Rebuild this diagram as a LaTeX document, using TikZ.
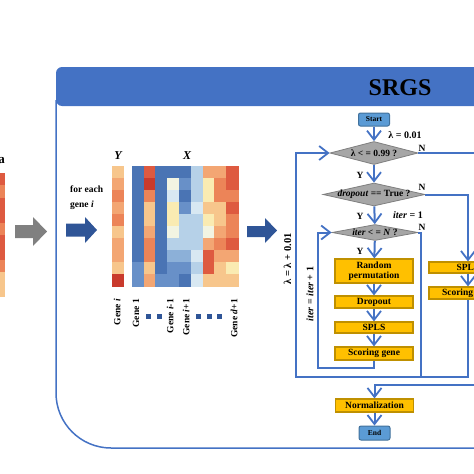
\documentclass[tikz,border=0pt]{standalone}
\usepackage{fontspec}
\setmainfont{Liberation Serif}
\usetikzlibrary{arrows.meta, shapes.geometric}

\definecolor{panelblue}{HTML}{4472C4}
\definecolor{arrowblue}{HTML}{2F5597}
\definecolor{arrowgray}{HTML}{808080}
\definecolor{diafill}{HTML}{A6A6A6}
\definecolor{diaedge}{HTML}{7F7F7F}
\definecolor{goldfill}{HTML}{FFC000}
\definecolor{goldedge}{HTML}{BF9000}
\definecolor{termfill}{HTML}{5B9BD5}
\definecolor{termedge}{HTML}{41719C}
% heatmap palette
\definecolor{bA}{HTML}{4A74B4}
\definecolor{bB}{HTML}{6890C8}
\definecolor{bC}{HTML}{8CB0D8}
\definecolor{bD}{HTML}{B6D1E8}
\definecolor{bE}{HTML}{D8E8F2}
\definecolor{wA}{HTML}{F2F4E2}
\definecolor{yA}{HTML}{FAEBB2}
\definecolor{oA}{HTML}{F7C68C}
\definecolor{oB}{HTML}{F3A673}
\definecolor{oC}{HTML}{EC8458}
\definecolor{rA}{HTML}{DE5A40}
\definecolor{rB}{HTML}{C93A2C}

\begin{document}
\begin{tikzpicture}[x=1pt, y=-1pt, font=\bfseries,
    flow/.style={draw=panelblue, line width=2pt},
    flowarrow/.style={flow, -{Straight Barb[length=9pt, width=14pt, line width=1.8pt]}},
    decision/.style={diamond, fill=diafill, draw=diaedge, line width=0.8pt, inner sep=0pt},
    goldbox/.style={rectangle, fill=goldfill, draw=goldedge, line width=1.2pt, minimum width=78pt,
      inner sep=1pt, font=\bfseries\fontsize{9.5}{10}\selectfont, align=center},
    terminal/.style={rectangle, rounded corners=2pt, fill=termfill, draw=termedge, line width=1pt,
      minimum width=31pt, inner sep=1pt, font=\bfseries\fontsize{7.5}{8}\selectfont},
    tag/.style={font=\bfseries\fontsize{9.5}{10}\selectfont, inner sep=0pt},
    genelabel/.style={rotate=90, anchor=east, inner sep=0pt, font=\bfseries\fontsize{9.5}{10}\selectfont}]
    \useasboundingbox (0,0) rectangle (474,474);

    % Input data (cut at the left edge)
    \node[anchor=base east, inner sep=0pt, font=\bfseries\fontsize{13}{14}\selectfont] (datatitle) at (5,163) {a};
    \foreach \c [count=\j from 0] in {rA,oC,rA,rA,oC,rA,rA,oC,oA,oA}
        \fill[\c] (-10,173+\j*12.4) rectangle ++(14.5,12.4);
    \fill[arrowgray] (15,225) -- (33,225) -- (33,217) -- (47,231.5) -- (33,246) -- (33,238) -- (15,238) -- cycle;

    % SRGS panel
    \draw[panelblue, line width=1.5pt, rounded corners=55pt] (56,100) |- (490,448);
    \fill[panelblue, rounded corners=6pt] (56,106) |- (490,67) -- (490,106) -- cycle;
    \node[font=\bfseries\fontsize{24}{26}\selectfont] (srgs) at (400,88) {SRGS};

    % For each gene
    \node[anchor=west, align=left, inner sep=0pt, font=\bfseries\fontsize{9.5}{14.5}\selectfont] (foreach) at (70,197.5) {for each\\gene \textit{i}};
    \fill[arrowblue] (66,223.5) -- (85,223.5) -- (85,217) -- (97,230) -- (85,243) -- (85,236.5) -- (66,236.5) -- cycle;

    % Y column and X matrix
    \node[font=\bfseries\itshape\fontsize{12}{12}\selectfont] (ylabel) at (118,156) {Y};
    \node[font=\bfseries\itshape\fontsize{12}{12}\selectfont] (xlabel) at (187,156) {X};
    \foreach \c [count=\j from 0] in {oA,oB,oC,oB,oC,oA,oB,oB,oA,rB}
        \fill[\c, draw=\c, line width=0.2pt] (112,166+\j*12) rectangle ++(11,12);
    \foreach \col [count=\i from 0] in {
        {bA,bA,bA,bA,bA,bA,bA,bA,bB,bB},
        {rA,rB,oC,oA,oA,oB,oC,oC,oA,oB},
        {bA,bA,bA,bA,bA,bA,bA,bA,bA,bB},
        {bA,wA,bE,yA,yA,wA,bD,bC,bB,bB},
        {bA,bB,bA,bB,bD,bD,bD,bC,bB,bA},
        {bD,bD,bD,bE,bD,bD,bD,bE,bD,bE},
        {oB,yA,yA,oA,yA,wA,oB,rA,rA,oA},
        {oB,oC,oC,oA,oA,oB,oC,oB,oA,oA},
        {rA,rA,oC,rA,oC,oC,rA,oB,yA,oA}}
        \foreach \c [count=\j from 0] in \col
            \fill[\c, draw=\c, line width=0.2pt] (132+\i*11.78,166+\j*12) rectangle ++(11.78,12);

    % Gene labels
    \node[genelabel] (gi) at (117,299) {Gene \textit{i}};
    \node[genelabel] (g1) at (136,299) {Gene 1};
    \node[genelabel] (gim) at (170,299) {Gene \textit{i}-1};
    \node[genelabel] (gip) at (186,299) {Gene \textit{i}+1};
    \node[genelabel] (gd) at (234,299) {Gene \textit{d}+1};
    \foreach \x in {148,159,198,209,219}
        \fill[arrowblue] (\x-2.5,313.5) rectangle ++(5,5);

    \fill[arrowblue] (247,226) -- (265,226) -- (265,218) -- (277,230.5) -- (265,243) -- (265,237) -- (247,237) -- cycle;

    % Flowchart
    \node[terminal, minimum height=13pt] (start) at (374,119.5) {Start};
    \node[decision, minimum width=88pt, minimum height=23pt, label={[tag]center:λ < = 0.99 ?}] (lamtest) at (374,153) {};
    \node[decision, minimum width=102pt, minimum height=23pt, label={[tag]center:\textit{dropout} == True ?}] (droptest) at (374,194.5) {};
    \node[decision, minimum width=86pt, minimum height=16pt, label={[tag]center:\textit{iter} < = \textit{N} ?}] (itertest) at (375,232.5) {};
    \node[goldbox, minimum height=24pt] (perm) at (374,271) {Random\\permutation};
    \node[goldbox, minimum height=12pt] (dropout) at (374,302) {Dropout};
    \node[goldbox, minimum height=11pt] (spls) at (374,327.5) {SPLS};
    \node[goldbox, minimum height=13pt] (scoring) at (374,353.5) {Scoring gene};
    \node[goldbox, minimum height=11pt] (splsall) at (468,267.5) {SPLS};
    \node[goldbox, minimum height=12pt] (scoringall) at (468,293) {Scoring gene};
    \node[goldbox, minimum height=13pt] (norm) at (374.5,405.5) {Normalization};
    \node[terminal, minimum height=14pt] (finish) at (374.5,433) {End};

    \coordinate (innerloop) at (318,368);
    \coordinate (outerright) at (421,377);
    \coordinate (outerleft) at (296,377);
    \coordinate (offside) at (495,385);

    \draw[flowarrow] (start) -- (lamtest);
    \draw[flowarrow] (lamtest) -- (droptest);
    \draw[flowarrow] (droptest) -- (itertest);
    \draw[flowarrow] (itertest) -- (perm);
    \draw[flowarrow] (perm) -- (dropout);
    \draw[flowarrow] (dropout) -- (spls);
    \draw[flowarrow] (spls) -- (scoring);
    \draw[flowarrow] (scoring.south) |- (innerloop) |- (itertest.west);
    \draw[flowarrow] (itertest.east) -| (outerright) -- (outerleft) |- (lamtest.west);
    \draw[flowarrow] (droptest.east) -| (splsall.north);
    \draw[flowarrow] (splsall) -- (scoringall);
    \draw[flow] (scoringall.south) |- (outerright);
    \draw[flowarrow] (lamtest.east) -| (offside) -| (norm.north);
    \draw[flowarrow] (norm) -- (finish);

    % Branch labels
    \node[tag, font=\bfseries\fontsize{10}{10}\selectfont] (lamzero) at (405,135) {λ = 0.01};
    \node[tag, font=\bfseries\fontsize{10}{10}\selectfont] (iterone) at (408,215) {\textit{iter} = 1};
    \node[tag] (yes1) at (360,175) {Y};
    \node[tag] (yes2) at (360,216) {Y};
    \node[tag] (yes3) at (360,251) {Y};
    \node[tag] (no1) at (422,148) {N};
    \node[tag] (no2) at (422,187) {N};
    \node[tag] (no3) at (422,227) {N};
    \node[tag, rotate=90, font=\bfseries\fontsize{10.5}{11}\selectfont] (lamstep) at (287.5,259) {λ = λ + 0.01};
    \node[tag, rotate=90, font=\bfseries\fontsize{10}{10}\selectfont] (iterstep) at (310,294) {\textit{iter} = \textit{iter} + 1};
\end{tikzpicture}
\end{document}
